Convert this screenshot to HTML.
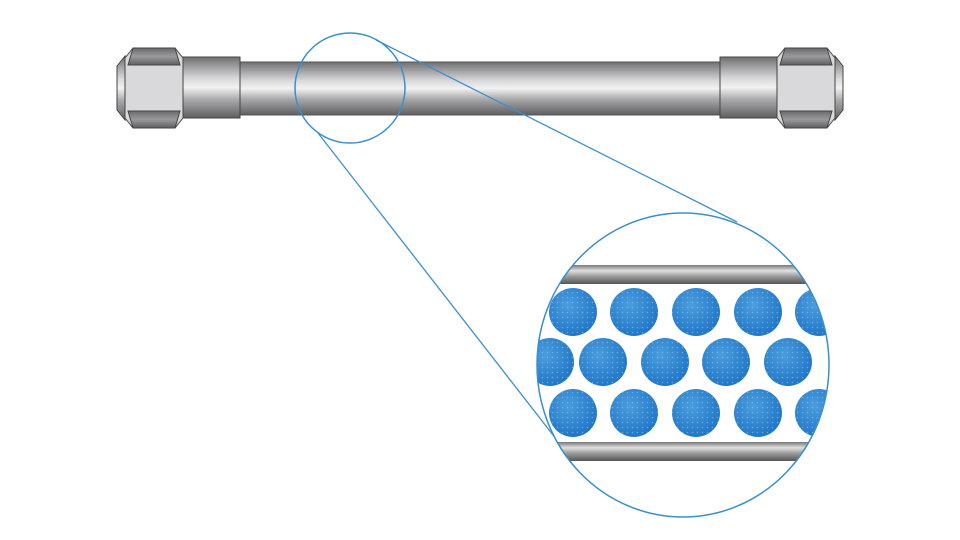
<!DOCTYPE html>
<html><head><meta charset="utf-8"><style>html,body{margin:0;padding:0;background:#fff}svg{display:block}</style></head>
<body>
<svg width="960" height="540" viewBox="0 0 960 540" xmlns="http://www.w3.org/2000/svg">
<defs>
<linearGradient id="tube" x1="0" y1="0" x2="0" y2="1">
<stop offset="0" stop-color="#6f6f71"/><stop offset="0.35" stop-color="#d8d8da"/><stop offset="0.5" stop-color="#f2f2f2"/><stop offset="0.7" stop-color="#a9a9ab"/><stop offset="1" stop-color="#5f5f61"/>
</linearGradient>
<linearGradient id="dark" x1="0" y1="0" x2="0" y2="1">
<stop offset="0" stop-color="#6a6a6c"/><stop offset="0.5" stop-color="#9a9a9c"/><stop offset="1" stop-color="#5e5e60"/>
</linearGradient>
<linearGradient id="bar" x1="0" y1="0" x2="0" y2="1">
<stop offset="0" stop-color="#777"/><stop offset="0.3" stop-color="#e0e0e0"/><stop offset="0.6" stop-color="#9a9a9a"/><stop offset="1" stop-color="#555"/>
</linearGradient>
<radialGradient id="bead" cx="0.4" cy="0.35" r="0.7">
<stop offset="0" stop-color="#4a9ddd"/><stop offset="1" stop-color="#1f74c4"/>
</radialGradient>
<pattern id="dots" width="5" height="5" patternUnits="userSpaceOnUse">
<circle cx="2.5" cy="2.5" r="0.8" fill="#8cc4ee"/>
</pattern>
<clipPath id="big"><ellipse cx="683" cy="365" rx="146" ry="152"/></clipPath>
<g id="fit">
<rect x="183" y="57" width="57" height="61" fill="url(#tube)" stroke="#444" stroke-width="1"/>
<path d="M125,56 L117,66 L117,110 L125,120 L125,56Z" fill="url(#tube)" stroke="#444"/>
<path d="M133,48 L175,48 L183,58 L183,118 L175,128 L133,128 L125,118 L125,58Z" fill="#d9d9db" stroke="#444"/>
<path d="M133,48 L175,48 L180,65 L128,65Z" fill="url(#dark)" stroke="#444"/>
<path d="M128,111 L180,111 L175,128 L133,128Z" fill="url(#dark)" stroke="#444"/>
</g>
</defs>
<rect x="240" y="62" width="480" height="53" fill="url(#tube)" stroke="#555"/>
<use href="#fit"/>
<use href="#fit" transform="translate(960,0) scale(-1,1)"/>
<circle cx="350" cy="88" r="55" fill="none" stroke="#3a8fcc" stroke-width="1.5"/>
<line x1="376" y1="40" x2="737" y2="222" stroke="#3a8fcc" stroke-width="1.3"/>
<line x1="318" y1="133" x2="560" y2="444" stroke="#3a8fcc" stroke-width="1.3"/>
<ellipse cx="683" cy="365" rx="146" ry="152" fill="#fff"/>
<g clip-path="url(#big)">
<rect x="530" y="265" width="310" height="19" fill="url(#bar)"/>
<rect x="530" y="442" width="310" height="19" fill="url(#bar)"/>
<g>
<circle cx="573" cy="312" r="24" fill="url(#bead)"/><circle cx="634" cy="312" r="24" fill="url(#bead)"/><circle cx="696" cy="312" r="24" fill="url(#bead)"/><circle cx="758" cy="312" r="24" fill="url(#bead)"/><circle cx="819" cy="312" r="24" fill="url(#bead)"/>
<circle cx="550" cy="362" r="24" fill="url(#bead)"/><circle cx="603" cy="362" r="24" fill="url(#bead)"/><circle cx="665" cy="362" r="24" fill="url(#bead)"/><circle cx="726" cy="362" r="24" fill="url(#bead)"/><circle cx="788" cy="362" r="24" fill="url(#bead)"/>
<circle cx="573" cy="413" r="24" fill="url(#bead)"/><circle cx="634" cy="413" r="24" fill="url(#bead)"/><circle cx="696" cy="413" r="24" fill="url(#bead)"/><circle cx="758" cy="413" r="24" fill="url(#bead)"/><circle cx="819" cy="413" r="24" fill="url(#bead)"/>
</g>
<g fill="url(#dots)" opacity="0.6">
<circle cx="573" cy="312" r="24"/><circle cx="634" cy="312" r="24"/><circle cx="696" cy="312" r="24"/><circle cx="758" cy="312" r="24"/><circle cx="819" cy="312" r="24"/>
<circle cx="550" cy="362" r="24"/><circle cx="603" cy="362" r="24"/><circle cx="665" cy="362" r="24"/><circle cx="726" cy="362" r="24"/><circle cx="788" cy="362" r="24"/>
<circle cx="573" cy="413" r="24"/><circle cx="634" cy="413" r="24"/><circle cx="696" cy="413" r="24"/><circle cx="758" cy="413" r="24"/><circle cx="819" cy="413" r="24"/>
</g>
</g>
<ellipse cx="683" cy="365" rx="146" ry="152" fill="none" stroke="#3a8fcc" stroke-width="1.5"/>
</svg>
</body></html>
